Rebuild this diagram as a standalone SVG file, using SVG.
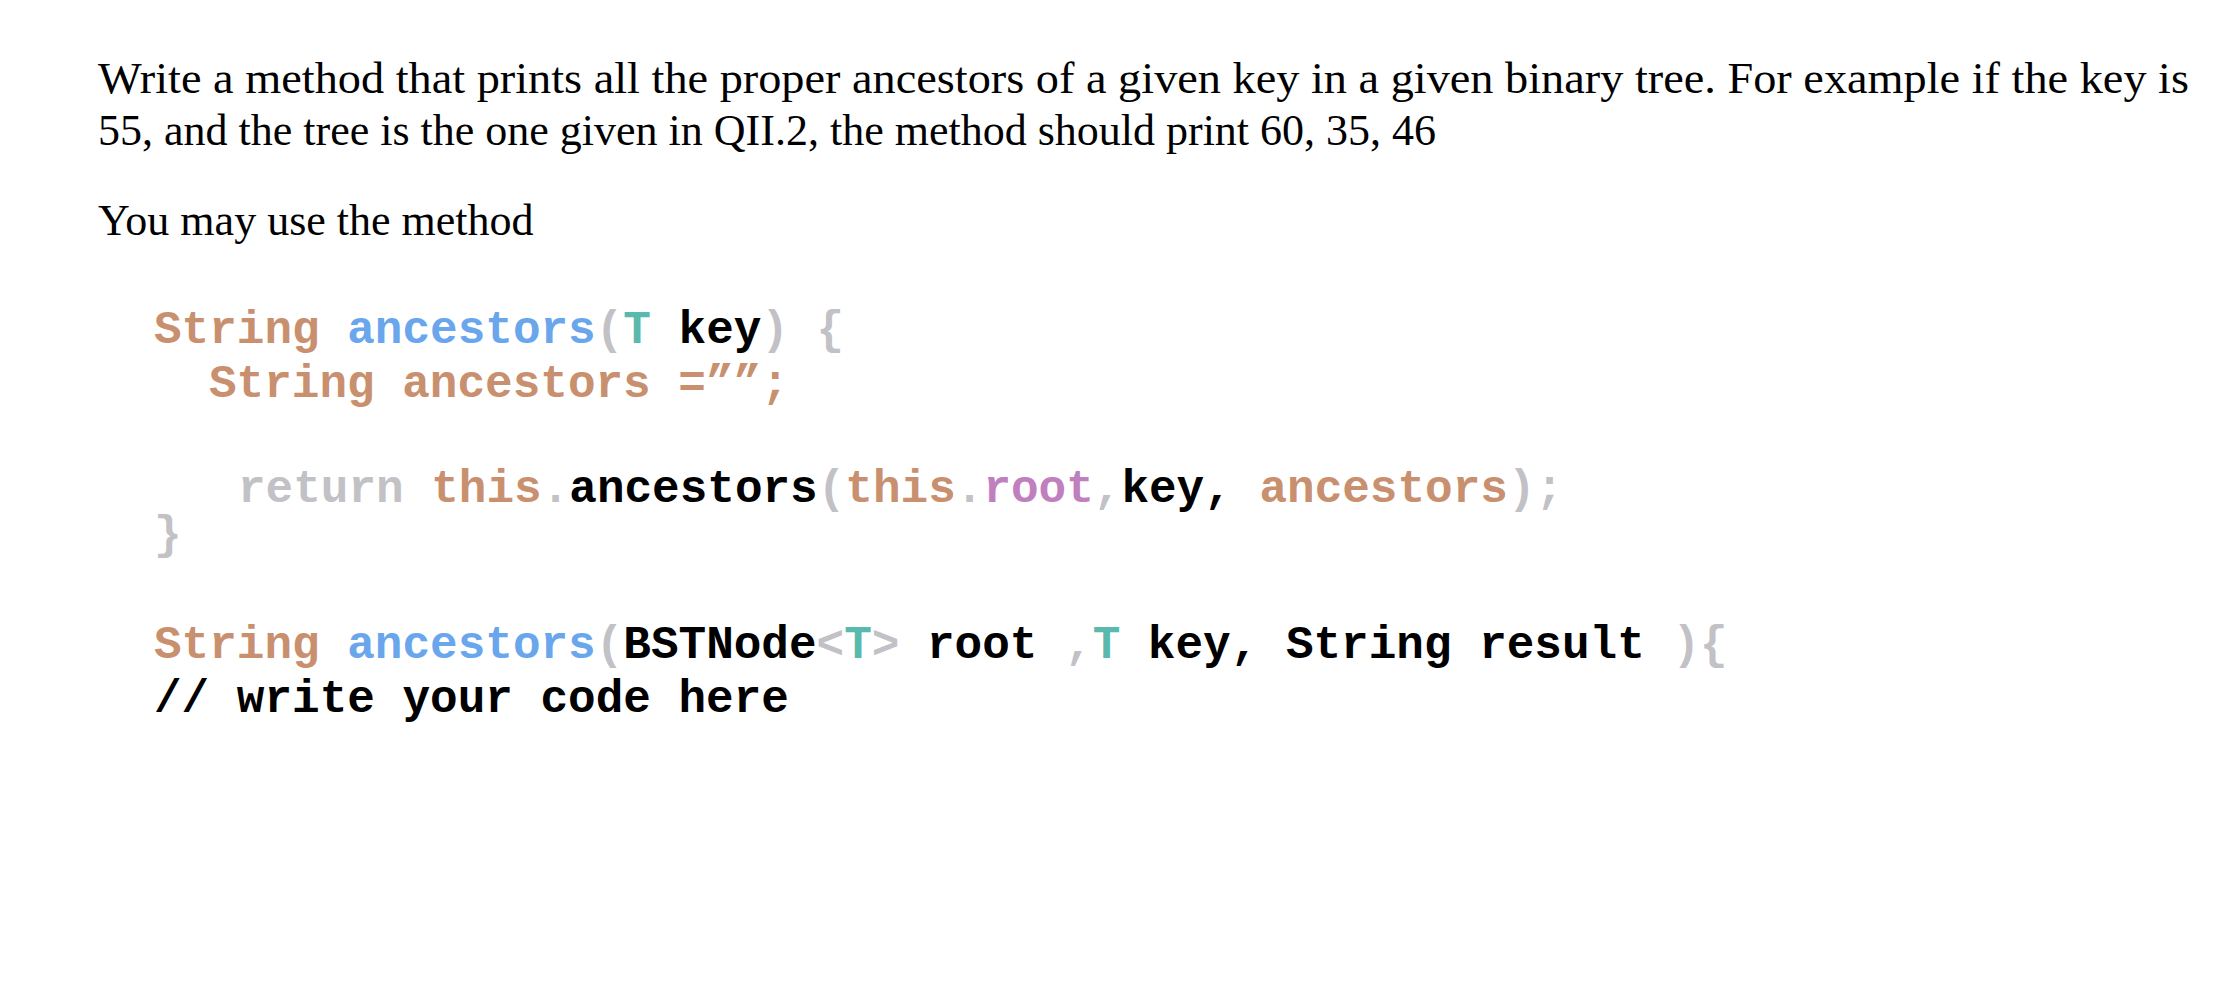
<svg xmlns="http://www.w3.org/2000/svg" width="2232" height="994" viewBox="0 0 2232 994">
<style>
.p{font-family:"Liberation Serif","Times New Roman",serif;font-size:44px;fill:#000}
.c{font-family:"Liberation Mono","Courier New",monospace;font-size:46px;font-weight:bold;fill:#000;white-space:pre}
.s{fill:#C8906E}.b{fill:#6AA6EC}.t{fill:#58B9AC}.g{fill:#C1C1C6}.m{fill:#C07FBE}.k{fill:#000}
</style>
<rect width="2232" height="994" fill="#fff"/>
<g id="prose">
<text class="p" x="98" y="93" textLength="2091" lengthAdjust="spacingAndGlyphs">Write a method that prints all the proper ancestors of a given key in a given binary tree. For example if the key is</text>
<text class="p" x="98" y="145">55, and the tree is the one given in QII.2, the method should print 60, 35, 46</text>
<text class="p" x="98" y="235">You may use the method</text>
</g>
<g id="code" xml:space="preserve">
<text class="c" x="154" y="343"><tspan class="s">String</tspan> <tspan class="b">ancestors</tspan><tspan class="g">(</tspan><tspan class="t">T</tspan> <tspan class="k">key</tspan><tspan class="g">)</tspan> <tspan class="g">{</tspan></text>
<text class="c" x="209" y="397"><tspan class="s">String</tspan> <tspan class="s">ancestors</tspan> <tspan class="s">=””;</tspan></text>
<text class="c" x="238" y="502"><tspan class="g">return</tspan> <tspan class="s">this</tspan><tspan class="g">.</tspan><tspan class="k">ancestors</tspan><tspan class="g">(</tspan><tspan class="s">this</tspan><tspan class="g">.</tspan><tspan class="m">root</tspan><tspan class="g">,</tspan><tspan class="k">key,</tspan> <tspan class="s">ancestors</tspan><tspan class="g">);</tspan></text>
<text class="c" x="154" y="548"><tspan class="g">}</tspan></text>
<text class="c" x="154" y="658"><tspan class="s">String</tspan> <tspan class="b">ancestors</tspan><tspan class="g">(</tspan><tspan class="k">BSTNode</tspan><tspan class="g">&lt;</tspan><tspan class="t">T</tspan><tspan class="g">&gt;</tspan> <tspan class="k">root</tspan> <tspan class="g">,</tspan><tspan class="t">T</tspan> <tspan class="k">key,</tspan> <tspan class="k">String</tspan> <tspan class="k">result</tspan> <tspan class="g">){</tspan></text>
<text class="c" x="154" y="712">// write your code here</text>
</g>
</svg>
